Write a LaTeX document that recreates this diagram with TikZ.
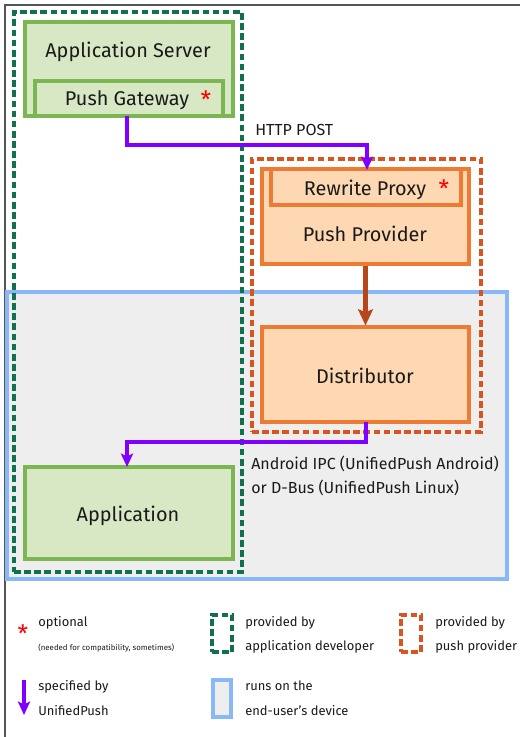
\documentclass[tikz,border=0pt]{standalone}
\usepackage{fontspec}
\setmainfont{Fira Sans}
\usetikzlibrary{arrows.meta,fit}
\definecolor{gfill}{HTML}{D8E8C4}
\definecolor{gline}{HTML}{7CB652}
\definecolor{gdash}{HTML}{10704F}
\definecolor{ofill}{HTML}{FDD8B2}
\definecolor{oline}{HTML}{EE7B33}
\definecolor{odash}{HTML}{D9541E}
\definecolor{brownarr}{HTML}{B5471B}
\definecolor{purp}{HTML}{7F00FF}
\definecolor{bline}{HTML}{88B8F8}
\definecolor{bfill}{HTML}{EEEEEE}
\definecolor{frame}{HTML}{555555}
\definecolor{ink}{HTML}{1A1A1A}
\tikzset{
  gbox/.style={draw=gline,fill=gfill,line width=2.3pt,inner sep=0pt},
  obox/.style={draw=oline,fill=ofill,line width=2.3pt,inner sep=0pt},
  gdashbox/.style={draw=gdash,dash pattern=on 5pt off 2.6pt,line width=2.4pt,inner sep=0pt},
  odashbox/.style={draw=odash,dash pattern=on 5pt off 2.6pt,line width=2.4pt,inner sep=0pt},
  devbox/.style={draw=bline,fill=bfill,line width=2.3pt,inner sep=0pt},
  bigtxt/.style={font=\fontsize{14.9}{17}\selectfont,text=ink,inner sep=0pt,anchor=base},
  midtxt/.style={font=\fontsize{12}{14}\selectfont,text=ink,inner sep=0pt,anchor=base west},
  legtxt/.style={font=\fontsize{9.7}{11}\selectfont,text=ink,inner sep=0pt,anchor=base west},
  tinytxt/.style={font=\fontsize{5.9}{7}\selectfont,text=ink,inner sep=0pt,anchor=base west},
  star/.style={font=\fontsize{18}{18}\selectfont,text=red,inner sep=0pt},
  uparrow/.style={draw=purp,line width=3pt,-{Stealth[length=10pt,width=9pt,inset=2pt]}},
  brarrow/.style={draw=brownarr,line width=3.8pt,-{Stealth[length=12pt,width=11pt,inset=2pt]}},
}
\begin{document}
\begin{tikzpicture}[x=0.75pt,y=-0.75pt]
\useasboundingbox (0,0) rectangle (520,737);
% outer frame (partial)
\draw[frame,line width=1.3pt] (5,737) -- (5,5) -- (520,5);
% device area
\node[devbox,fit={(7,292) (507,579)}] (device) {};
% dashed groups
\node[gdashbox,fit={(14,12) (242,572)}] (devgroup) {};
\node[odashbox,fit={(252,159) (481,432)}] (provgroup) {};
% application server
\node[gbox,fit={(25,22) (233,116)}] (appserver) {};
\node[gbox,fit={(35,81) (223,116)}] (gateway) {};
\node[bigtxt] (appservertxt) at (128,58) {Application Server};
\node[bigtxt] (gatewaytxt) at (127,106) {Push Gateway};
\node[star] (star1) at (206,100) {*};
% push provider
\node[obox,fit={(262,169) (469,264)}] (provider) {};
\node[obox,fit={(271,169) (461,205)}] (rewrite) {};
\node[bigtxt] (rewritetxt) at (365,196) {Rewrite Proxy};
\node[star] (star2) at (444,189) {*};
\node[bigtxt] (providertxt) at (365,242) {Push Provider};
% distributor
\node[obox,fit={(262,327) (469,422)}] (distributor) {};
\node[bigtxt] (distributortxt) at (365,383) {Distributor};
% application
\node[gbox,fit={(25,467) (233,559)}] (application) {};
\node[bigtxt] (applicationtxt) at (128,521) {Application};
% labels
\node[midtxt] (httppost) at (255,136) {HTTP POST};
\node[midtxt] (ipc1) at (251,469) {Android IPC (UnifiedPush Android)};
\node[midtxt] (ipc2) at (251,493) {or D-Bus (UnifiedPush Linux)};
% connectors
\coordinate (bend1) at (127,145);
\coordinate (gwout) at (127,116);
\coordinate (rpin) at (367,170);
\draw[uparrow] (gwout) -- (bend1) -| (rpin);
\draw[brarrow] (provider.south) -- (distributor.north);
\coordinate (dout) at (366,422);
\coordinate (bend2) at (366,442);
\coordinate (appin) at (127,467);
\draw[uparrow] (dout) -- (bend2) -| (appin);
% legend
\node[star] (lstar) at (23,634) {*};
\node[legtxt] (lopt) at (38,626) {optional};
\node[tinytxt] (lnote) at (38,650) {(needed for compatibility, sometimes)};
\node[gdashbox,fit={(212,615) (232,652)}] (lgreen) {};
\node[legtxt] (lg1) at (245,626) {provided by};
\node[legtxt] (lg2) at (245,650) {application developer};
\node[odashbox,fit={(401,615) (421,652)}] (lorange) {};
\node[legtxt] (lo1) at (435,626) {provided by};
\node[legtxt] (lo2) at (435,650) {push provider};
\coordinate (la1) at (24,680);
\coordinate (la2) at (24,715);
\draw[uparrow] (la1) -- (la2);
\node[legtxt] (ls1) at (38,690) {specified by};
\node[legtxt] (ls2) at (38,715) {UnifiedPush};
\node[devbox,fit={(213,680) (231,717)}] (lblue) {};
\node[legtxt] (lb1) at (245,690) {runs on the};
\node[legtxt] (lb2) at (245,715) {end-user's device};
\end{tikzpicture}
\end{document}
